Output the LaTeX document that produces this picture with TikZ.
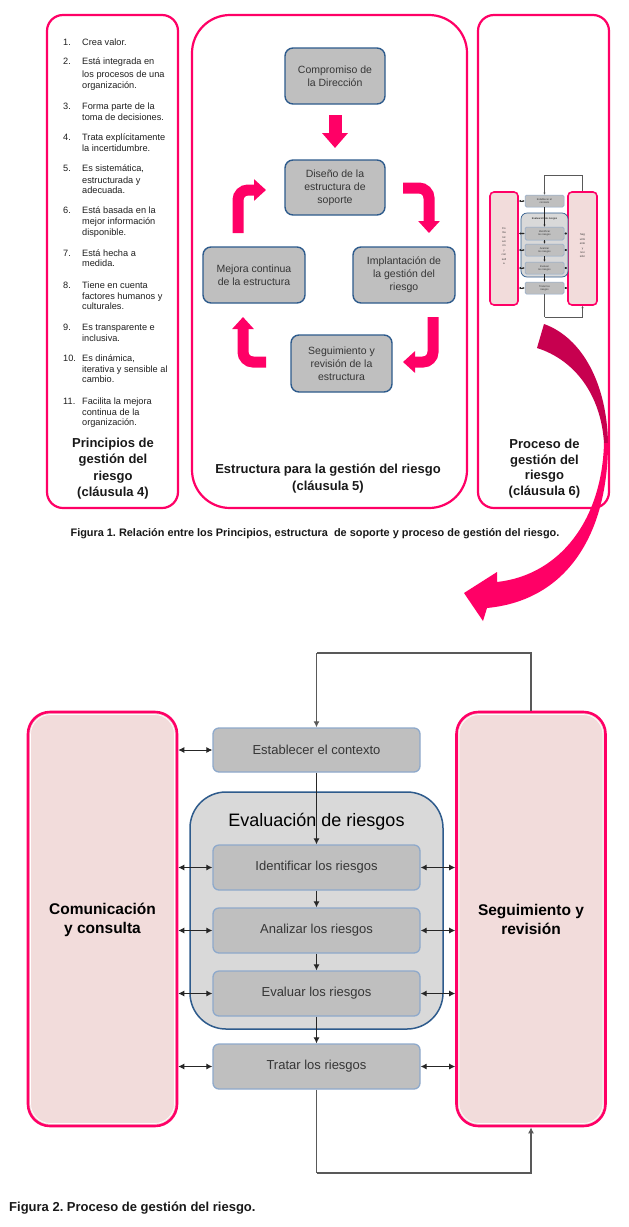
\documentclass[tikz,border=0pt]{standalone}
\usepackage{fontspec}
\setmainfont{Liberation Sans}
\usetikzlibrary{arrows.meta,calc}
\frenchspacing
\definecolor{pinkc}{HTML}{FF0066}
\definecolor{darkpink}{HTML}{C7004F}
\definecolor{pinkfill}{HTML}{F2DCDB}
\definecolor{boxgray}{HTML}{BFBFBF}
\definecolor{areagray}{HTML}{D9D9D9}
\definecolor{darkblue}{HTML}{2E5B8C}
\definecolor{lightblue}{HTML}{8EA9CB}
\definecolor{txtgray}{HTML}{363636}
\definecolor{linegray}{HTML}{595959}
\newcommand{\fs}[2]{\fontsize{#1}{#2}\selectfont}
\tikzset{
  panel/.style={draw=pinkc, line width=2.2pt, rounded corners=16pt, inner sep=0pt},
  listtxt/.style={anchor=base west, inner sep=0pt, font=\fs{9.2}{11}, text=black!88},
  ptitle/.style={align=center, inner sep=0pt, font=\bfseries\fs{13}{16.3}, text=black!90},
  mbox/.style={draw=darkblue, line width=1.4pt, fill=boxgray, rounded corners=8pt, inner sep=0pt, align=center, text=txtgray, font=\fs{10.5}{13}},
  pinkarr/.style={draw=pinkc, line width=11pt, rounded corners=10pt, -{Triangle[length=12pt,width=21pt]}},
  bbox/.style={draw=lightblue, line width=1.3pt, fill=boxgray, rounded corners=6pt, inner sep=0pt, minimum width=207pt, minimum height=44pt, text=txtgray, font=\fs{13}{15}},
  sidebox/.style={draw=pinkc, line width=2.6pt, fill=pinkfill, rounded corners=22pt, inner sep=0pt, minimum width=149pt, minimum height=414pt},
  sideinner/.style={draw=white, line width=0.7pt, rounded corners=20pt, inner sep=0pt, minimum width=144pt, minimum height=409pt},
  sidetxt/.style={align=center, inner sep=0pt, font=\bfseries\fs{15.5}{19}, text=black},
  conn/.style={draw=black!85, line width=0.9pt, -{Latex[length=6pt,width=6pt]}},
  dconn/.style={draw=black!85, line width=0.9pt, {Latex[length=6pt,width=6pt]}-{Latex[length=6pt,width=6pt]}},
  loopline/.style={draw=linegray, line width=1.2pt},
  mgbox/.style={draw=lightblue, line width=0.5pt, fill=boxgray, rounded corners=1.5pt, inner sep=0pt, minimum width=39pt, align=center, text=txtgray, font=\fs{2.6}{3}},
  mside/.style={draw=pinkc, line width=1.6pt, fill=pinkfill, rounded corners=4pt, inner sep=0pt, minimum height=113pt},
  msidetxt/.style={align=center, inner sep=0pt, font=\fs{2.8}{4.4}, text=txtgray},
  mconn/.style={draw=black!85, line width=0.4pt, -{Latex[length=2.2pt,width=2.2pt]}},
  mdconn/.style={draw=black!85, line width=0.4pt, {Latex[length=2.2pt,width=2.2pt]}-{Latex[length=2.2pt,width=2.2pt]}},
  mloop/.style={draw=linegray, line width=0.8pt},
}
\begin{document}
\begin{tikzpicture}[x=1pt,y=-1pt]
\useasboundingbox (0,0) rectangle (629,1227);
\fill[white] (0,0) rectangle (629,1227);

% ---------- big curved arrow ----------
\fill[darkpink] (544,324) .. controls (583,338) and (607,385) .. (608,443) -- (604,443) .. controls (601,395) and (575,360) .. (537,348) -- cycle;
\fill[pinkc] (608,443) .. controls (608,530) and (570,600) .. (487,608) -- (483,621) -- (464,593) -- (497,572) -- (497,582) .. controls (560,575) and (602,520) .. (604,443) -- cycle;

% ---------- panels ----------
\node[panel, minimum width=131pt, minimum height=493pt] (lp) at (112.5,261.5) {};
\node[panel, rounded corners=38pt, minimum width=275pt, minimum height=493pt] (mp) at (329.5,261.5) {};
\node[panel, minimum width=131pt, minimum height=493pt] (rp) at (543.5,261.5) {};

% ---------- left panel list ----------
\foreach \n/\yy [count=\i] in {1./45.5, 2./64.7, 3./109, 4./140.5, 5./171, 6./213.5, 7./256, 8./288, 9./330.5, 10./361.5, 11./404.5}
  {\node[listtxt] (num\i) at (63,\yy) {\n};}
\foreach \t/\yy [count=\i] in {
  {Crea valor.}/45.5,
  {Está integrada en}/64.7, {los procesos de una}/77, {organización.}/88,
  {Forma parte de la}/109, {toma de decisiones.}/120,
  {Trata explícitamente}/140.5, {la incertidumbre.}/151,
  {Es sistemática,}/171, {estructurada y}/183, {adecuada.}/193.5,
  {Está basada en la}/213.5, {mejor información}/224.5, {disponible.}/235,
  {Está hecha a}/256, {medida.}/266.5,
  {Tiene en cuenta}/288, {factores humanos y}/299.5, {culturales.}/309.5,
  {Es transparente e}/330.5, {inclusiva.}/341.5,
  {Es dinámica,}/361.5, {iterativa y sensible al}/372, {cambio.}/382.5,
  {Facilita la mejora}/404.5, {continua de la}/415, {organización.}/425.5}
  {\node[listtxt] (lt\i) at (82,\yy) {\t};}
\node[ptitle] (lptitle) at (113,468.5) {Principios de\\gestión del\\riesgo\\(cláusula 4)};

% ---------- middle panel ----------
\node[mbox, minimum width=100pt, minimum height=56pt] (comp) at (335,76) {Compromiso de\\la Dirección};
\node[mbox, minimum width=100pt, minimum height=55pt] (dis) at (335,187.5) {Diseño de la\\estructura de\\soporte};
\node[mbox, minimum width=102pt, minimum height=56pt] (mej) at (254,275) {Mejora continua\\de la estructura};
\node[mbox, minimum width=102pt, minimum height=56pt] (imp) at (404,275) {Implantación de\\la gestión del\\riesgo};
\node[mbox, minimum width=101pt, minimum height=57pt] (seg) at (341.5,363.5) {Seguimiento y\\revisión de la\\estructura};
\coordinate (a1s) at (335,115);
\coordinate (a1e) at (335,148);
\coordinate (a2s) at (403,188);
\coordinate (a2e) at (429,233);
\coordinate (a3s) at (238,233);
\coordinate (a3e) at (266,190);
\coordinate (a4s) at (433,317);
\coordinate (a4e) at (403,362);
\coordinate (a5s) at (266,362);
\coordinate (a5e) at (243,317);
\draw[draw=pinkc, line width=13pt, -{Triangle[length=15pt,width=25pt]}] (a1s) -- (a1e);
\draw[pinkarr] (a2s) -| (a2e);
\draw[pinkarr] (a3s) |- (a3e);
\draw[pinkarr] (a4s) |- (a4e);
\draw[pinkarr] (a5s) -| (a5e);
\node[ptitle, font=\bfseries\fs{13}{17}] (mptitle) at (328,478.5) {Estructura para la gestión del riesgo\\(cláusula 5)};

% ---------- right panel: mini process ----------
\node[mside, minimum width=28pt] (mcom) at (504,248.5) {};
\node[mside, minimum width=29pt] (mseg) at (582.5,248.5) {};
\node[msidetxt] (mcomt) at (504,246) {Co\\mu\\nic\\aci\\ón\\y\\con\\sult\\a};
\node[msidetxt] (msegt) at (582.5,246) {Seg\\uimi\\ento\\y\\revi\\sión};
\node[draw=darkblue, line width=0.7pt, fill=areagray, rounded corners=6pt, inner sep=0pt, minimum width=47pt, minimum height=64pt] (marea) at (544.5,245) {};
\node[inner sep=0pt, font=\fs{2.6}{3}, text=black] (mareat) at (544.5,219) {Evaluación de riesgos};
\node[mgbox, minimum height=12pt] (mest) at (544.5,201) {Establecer el\\contexto};
\node[mgbox, minimum height=13pt] (mid) at (544.5,233.5) {Identificar\\los riesgos};
\node[mgbox, minimum height=12pt] (man) at (544.5,250) {Analizar\\los riesgos};
\node[mgbox, minimum height=12pt] (mev) at (544.5,268) {Evaluar\\los riesgos};
\node[mgbox, minimum height=12pt] (mtr) at (544.5,288) {Tratar los\\riesgos};
\coordinate (mtl) at (544.5,175);
\coordinate (mbl) at (544.5,317);
\draw[mloop] (mseg.north) |- (mtl);
\draw[mconn, draw=linegray, line width=0.8pt] (mtl) -- (mest.north);
\draw[mloop] (mtr.south) -- (mbl);
\draw[mconn, draw=linegray, line width=0.8pt] (mbl) -| (mseg.south);
\draw[mconn] (mest.south) -- (mid.north);
\draw[mconn] (mid.south) -- (man.north);
\draw[mconn] (man.south) -- (mev.north);
\draw[mconn] (mev.south) -- (mtr.north);
\foreach \b in {mest,mid,man,mev,mtr}
  {\draw[mdconn] (\b.west -| mcom.east) -- (\b.west);}
\foreach \b in {mid,man,mev,mtr}
  {\draw[mdconn] (\b.east) -- (\b.east -| mseg.west);}
\node[ptitle, font=\bfseries\fs{13}{15.7}] (rptitle) at (544.5,468.5) {Proceso de\\gestión del\\riesgo\\(cláusula 6)};

% ---------- caption 1 ----------
\node[inner sep=0pt, font=\bfseries\fs{10.9}{13}, text=black!90] (cap1) at (315,534) {Figura 1. Relación entre los Principios, estructura \ de soporte y proceso de gestión del riesgo.};

% ---------- bottom diagram ----------
\node[sidebox] (com) at (102.5,919) {};
\node[sideinner] (comin) at (102.5,919) {};
\node[sidebox] (segr) at (531,919) {};
\node[sideinner] (segin) at (531,919) {};
\node[sidetxt] (comt) at (102.5,919.5) {Comunicación\\y consulta};
\node[sidetxt] (segt) at (531,919.5) {Seguimiento y\\revisión};
\node[draw=darkblue, line width=1.5pt, fill=areagray, rounded corners=36pt, inner sep=0pt, minimum width=253pt, minimum height=237pt] (area) at (316.5,910.5) {};
\node[bbox] (est) at (316.5,750) {Establecer el contexto};
\node[bbox, minimum height=45pt] (ident) at (316.5,867.5) {Identificar los riesgos};
\node[bbox, minimum height=45pt] (anal) at (316.5,930.5) {Analizar los riesgos};
\node[bbox, minimum height=45pt] (eval) at (316.5,993.5) {Evaluar los riesgos};
\node[bbox, minimum height=45pt] (trat) at (316.5,1066.5) {Tratar los riesgos};
\node[inner sep=0pt, font=\fs{18}{20}, text=black] (areat) at (316.5,822) {Evaluación de riesgos};
\coordinate (tl) at (316.5,653);
\coordinate (bl) at (316.5,1173);
\draw[loopline] (segr.north) |- (tl);
\draw[conn, draw=linegray, line width=1.2pt] (tl) -- (est.north);
\draw[conn] (est.south) -- (ident.north);
\draw[conn] (ident.south) -- (anal.north);
\draw[conn] (anal.south) -- (eval.north);
\draw[conn] (eval.south) -- (trat.north);
\draw[loopline] (trat.south) -- (bl);
\draw[conn, draw=linegray, line width=1.2pt] (bl) -| (segr.south);
\foreach \b in {est,ident,anal,eval,trat}
  {\draw[dconn] (\b.west -| com.east) -- (\b.west);}
\foreach \b in {ident,anal,eval,trat}
  {\draw[dconn] (\b.east) -- (\b.east -| segr.west);}

% ---------- caption 2 ----------
\node[anchor=west, inner sep=0pt, font=\bfseries\fs{13}{15}, text=black!90] (cap2) at (9,1208) {Figura 2. Proceso de gestión del riesgo.};
\end{tikzpicture}
\end{document}
